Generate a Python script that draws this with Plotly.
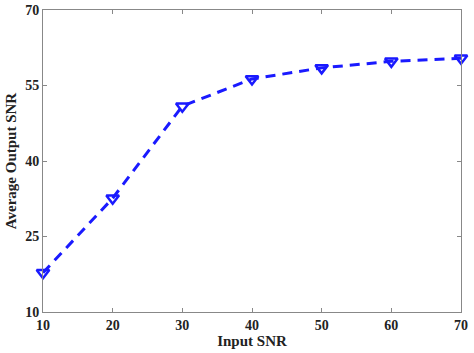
import plotly.graph_objects as go

input_snr = [10, 20, 30, 40, 50, 60, 70]
avg_output_snr = [17.8, 32.6, 50.9, 56.3, 58.5, 59.8, 60.4]
x_ticks = [10, 20, 30, 40, 50, 60, 70]
y_ticks = [10, 25, 40, 55, 70]

fig = go.Figure()
fig.add_trace(go.Scatter(
    x=input_snr, y=avg_output_snr, mode="lines+markers",
    line=dict(color="#1a1aff", width=3, dash="10px,7px"),
    marker=dict(symbol="triangle-down-open", size=11, color="#1a1aff",
                line=dict(color="#1a1aff", width=2.5)),
    showlegend=False,
    cliponaxis=False,
))

font = dict(family="Liberation Serif", size=14, color="#222")
axis_common = dict(showgrid=False, zeroline=False, showline=True, mirror="ticks",
                   linecolor="#888", linewidth=1, ticks="inside", ticklen=4,
                   tickcolor="#888", automargin=False,
                   tickfont=dict(family="Liberation Serif", size=14, color="#222"))

fig.update_xaxes(range=[10, 70], tickvals=x_ticks,
                 ticktext=[f"<b>{v}</b>" for v in x_ticks],
                 title=dict(text="<b>Input SNR</b>", font=dict(family="Liberation Serif", size=15, color="#222"), standoff=2),
                 **axis_common)
fig.update_yaxes(range=[10, 70], tickvals=y_ticks,
                 ticktext=[f"<b>{v}</b>" for v in y_ticks],
                 title=dict(text="<b>Average Output SNR</b>", font=dict(family="Liberation Serif", size=15, color="#222"), standoff=4),
                 **axis_common)

fig.update_layout(width=474, height=353, margin=dict(l=43, r=13, t=10, b=41),
                  plot_bgcolor="white", paper_bgcolor="white", font=font)

fig.write_html("out.html")
